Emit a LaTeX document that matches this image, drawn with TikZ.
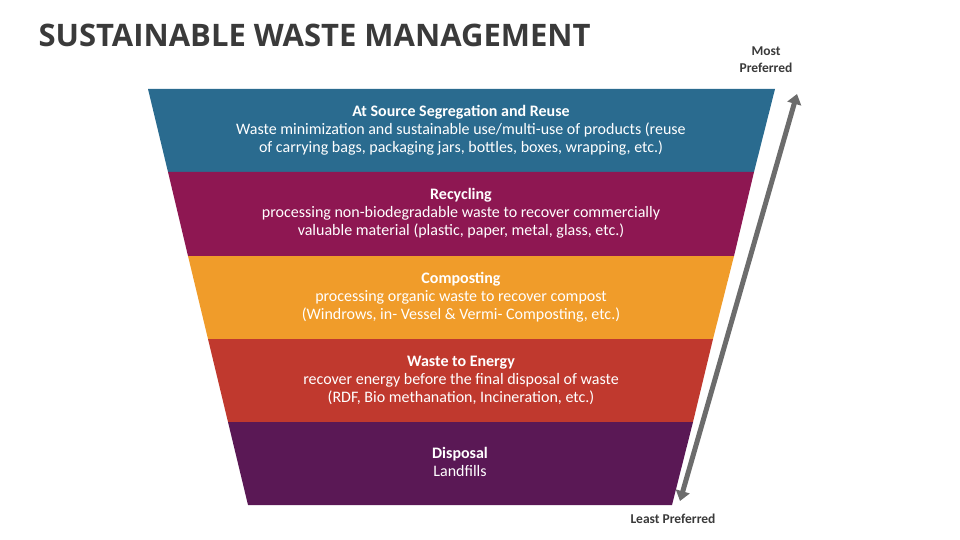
\documentclass[tikz,border=0pt]{standalone}
\usepackage{fontspec}
\setmainfont{Carlito}
\newfontfamily\titlefont{Open Sans}
\usetikzlibrary{arrows.meta}
\definecolor{cA}{HTML}{2A6B8F}
\definecolor{cB}{HTML}{8E1752}
\definecolor{cC}{HTML}{F09C2A}
\definecolor{cD}{HTML}{C0392E}
\definecolor{cE}{HTML}{5A1855}
\definecolor{tgray}{HTML}{3A3A3A}
\tikzset{bandtxt/.style={text=white,align=center,font=\fontsize{16}{18}\selectfont},
lbl/.style={text=tgray,align=center,font=\bfseries\fontsize{13.5}{17}\selectfont}}
\begin{document}
\begin{tikzpicture}[x=1pt,y=-1pt]
\useasboundingbox (0,0) rectangle (960,540);
\node[anchor=west,text=tgray,font=\titlefont\bfseries\fontsize{31}{34}\selectfont] (title) at (35,35) {SUSTAINABLE WASTE MANAGEMENT};
\fill[cA] (148,89) -- (775,89) -- (754,172) -- (168,172) -- cycle;
\fill[cB] (168,172) -- (754,172) -- (734,256) -- (188,256) -- cycle;
\fill[cC] (188,256) -- (734,256) -- (713,339) -- (208,339) -- cycle;
\fill[cD] (208,339) -- (713,339) -- (693,422) -- (228,422) -- cycle;
\fill[cE] (228,422) -- (693,422) -- (672,505) -- (248,505) -- cycle;
\node[bandtxt] (t1) at (461,130) {\textbf{At Source Segregation and Reuse}\\Waste minimization and sustainable use/multi-use of products (reuse\\of carrying bags, packaging jars, bottles, boxes, wrapping, etc.)};
\node[bandtxt] (t2) at (461,213) {\textbf{Recycling}\\processing non-biodegradable waste to recover commercially\\valuable material (plastic, paper, metal, glass, etc.)};
\node[bandtxt] (t3) at (461,297) {\textbf{Composting}\\processing organic waste to recover compost\\(Windrows, in- Vessel \& Vermi- Composting, etc.)};
\node[bandtxt] (t4) at (461,380) {\textbf{Waste to Energy}\\recover energy before the final disposal of waste\\(RDF, Bio methanation, Incineration, etc.)};
\node[bandtxt] (t5) at (460,462) {\textbf{Disposal}\\Landfills};
\node[lbl] (most) at (766,60) {Most\\Preferred};
\node[lbl] (least) at (673,519) {Least Preferred};
\coordinate (aTop) at (797,94);
\coordinate (aBot) at (680,501);
\draw[line width=5pt,color=gray!85!black,{Triangle[length=10pt,width=14pt]}-{Triangle[length=10pt,width=14pt]}] (aBot) -- (aTop);
\end{tikzpicture}
\end{document}
